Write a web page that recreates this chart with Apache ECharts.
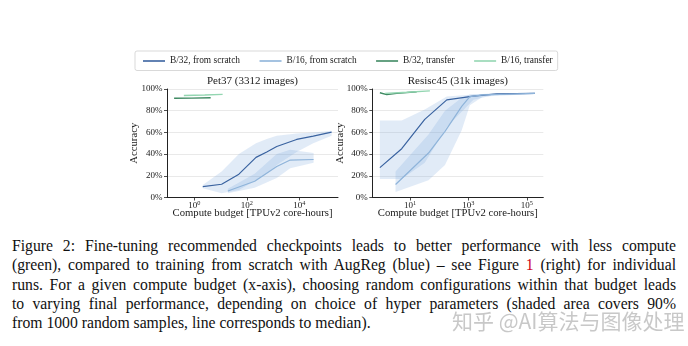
<!DOCTYPE html>
<html>
<head>
<meta charset="utf-8">
<script src="https://cdn.jsdelivr.net/npm/echarts@6/dist/echarts.min.js"></script>
<style>
html,body{margin:0;padding:0;background:#fff;width:688px;height:346px;overflow:hidden;}
#cap{position:absolute;left:12px;top:236px;width:664px;font-family:"Liberation Serif","Times New Roman",serif;font-size:15.7px;line-height:19.3px;color:#111;}
#cap div{text-align:justify;text-align-last:justify;}
#cap div.last{text-align:left;text-align-last:left;}
#cap .red{color:#d0021b;}
#chart{position:absolute;left:0;top:0;width:688px;height:346px;z-index:2;}
</style>
</head>
<body>
<div id="cap">
<div>Figure 2: Fine-tuning recommended checkpoints leads to better performance with less compute</div>
<div>(green), compared to training from scratch with AugReg (blue) – see Figure <span class="red">1</span> (right) for individual</div>
<div>runs. For a given compute budget (x-axis), choosing random configurations within that budget leads</div>
<div>to varying final performance, depending on choice of hyper parameters (shaded area covers 90%</div>
<div class="last">from 1000 random samples, line corresponds to median).</div>
</div>
<div id="chart"></div>
<script>
// ---------- text ----------
const legendNames = ['B/32, from scratch', 'B/16, from scratch', 'B/32, transfer', 'B/16, transfer'];
const panelTitles = ['Pet37 (3312 images)', 'Resisc45 (31k images)'];
const xAxisTitle = 'Compute budget [TPUv2 core-hours]';
const yAxisTitle = 'Accuracy';
const yTicks = [0, 20, 40, 60, 80, 100];
const petXTicks = [1, 100, 10000];
const resXTicks = [10, 1000, 100000];
const watermark = '知乎 @AI算法与图像处理';

// ---------- Pet37 ----------
const petB32ScratchX  = [2.1, 11, 50, 224, 575, 1380, 7900, 34000, 170000];
const petB32ScratchY  = [10, 12.2, 21.5, 37, 42, 47, 53.5, 56.5, 60.3];
const petB32ScratchLo = [8.5, 4, 7, 16, 22, 30, 42, 50, 57];
const petB32ScratchHi = [11.5, 24, 40, 50, 54, 57, 59, 60, 61.5];

const petB16ScratchX  = [19, 200, 1380, 4500, 35000];
const petB16ScratchY  = [6, 15, 28.5, 34.5, 35];
const petB16ScratchLo = [4, 9, 18, 27, 32];
const petB16ScratchHi = [8, 22, 40, 44, 41];

const petB32TransferX = [0.17, 0.8, 4.2];
const petB32TransferY = [91.5, 91.6, 92];
const petB16TransferX = [0.4, 2.5, 12];
const petB16TransferY = [94, 94.5, 95];

// ---------- Resisc45 ----------
const resB32ScratchX  = [0.93, 5.2, 32, 182, 1480, 9300, 190000];
const resB32ScratchY  = [27.5, 45, 72, 90, 93.5, 95.5, 96];
const resB32ScratchLo = [17, 17, 32, 65, 90, 95, 95.5];
const resB32ScratchHi = [71, 71, 81, 93, 95, 96, 96.5];

const resB16ScratchX  = [3.2, 43, 158, 590, 1120, 3160, 190000];
const resB16ScratchY  = [12, 41, 61, 84, 93, 94.5, 96];
const resB16ScratchLo = [5, 16, 30, 62, 85, 93, 95.5];
const resB16ScratchHi = [24, 58, 80, 92, 95, 95.5, 96.5];

const resB32TransferX = [0.93, 1.6, 3.5, 17];
const resB32TransferY = [96.5, 94.8, 96, 97.5];
const resB16TransferX = [1.4, 8, 48];
const resB16TransferY = [96, 97, 98.3];

// ---------- styles ----------
const SERIF = '"Liberation Serif", "Times New Roman", serif';
const C_B32 = '#3a63a0';
const C_B16 = '#8fb4da';
const C_T32 = '#3f8a63';
const C_T16 = '#93d6b1';
const BAND = 'rgba(120,165,220,0.22)';
const INK = '#1a1a1a';

function pairs(xs, ys) { return xs.map((x, i) => [x, ys[i]]); }

function lineSeries(name, gi, xs, ys, color, width) {
  return {
    name: name, type: 'line', xAxisIndex: gi, yAxisIndex: gi,
    data: pairs(xs, ys), showSymbol: false, symbol: 'none', color: color,
    lineStyle: { color: color, width: width }, z: 3, silent: true, animation: false
  };
}

function bandSeries(gi, xs, lo, hi) {
  return {
    type: 'custom', xAxisIndex: gi, yAxisIndex: gi, silent: true, z: 1, animation: false,
    data: xs.map((x, i) => [x, lo[i], hi[i]]),
    encode: { x: 0, y: [1, 2] },
    renderItem: function (params, api) {
      if (params.dataIndex !== 0) return null;
      const pts = [];
      for (let i = 0; i < xs.length; i++) pts.push(api.coord([xs[i], hi[i]]));
      for (let i = xs.length - 1; i >= 0; i--) pts.push(api.coord([xs[i], lo[i]]));
      return { type: 'polygon', shape: { points: pts }, style: { fill: BAND } };
    }
  };
}

function makeXAxis(gi, min, max, ticks) {
  return {
    type: 'log', logBase: 10, gridIndex: gi, min: min, max: max,
    axisLine: { show: true, lineStyle: { color: '#222', width: 1 } },
    axisTick: { show: true, customValues: ticks, length: 3, lineStyle: { color: '#222', width: 0.8 } },
    minorTick: { show: false },
    splitLine: { show: false },
    axisLabel: {
      customValues: ticks, margin: 3,
      formatter: function (v) { return '{b|10}{s|' + Math.round(Math.log10(v)) + '}'; },
      rich: {
        b: { fontFamily: SERIF, fontSize: 9, color: INK, lineHeight: 11 },
        s: { fontFamily: SERIF, fontSize: 6.3, color: INK, lineHeight: 11, verticalAlign: 'top' }
      }
    },
    name: xAxisTitle, nameLocation: 'middle', nameGap: 10, nameMoveOverlap: false,
    nameTextStyle: { fontFamily: SERIF, fontSize: 10.7, color: INK, verticalAlign: 'top' }
  };
}

function makeYAxis(gi) {
  return {
    type: 'value', gridIndex: gi, min: yTicks[0], max: yTicks[yTicks.length - 1], interval: 20,
    axisLine: { show: true, lineStyle: { color: '#222', width: 1 } },
    axisTick: { show: true, length: 3, lineStyle: { color: '#222', width: 0.8 } },
    splitLine: { show: true, lineStyle: { color: '#e3e3e3', width: 0.8 } },
    axisLabel: { formatter: '{value}%', margin: 4.5, fontFamily: SERIF, fontSize: 9, color: INK },
    name: yAxisTitle, nameLocation: 'middle', nameGap: 27, nameMoveOverlap: false,
    nameTextStyle: { fontFamily: SERIF, fontSize: 10.7, color: INK }
  };
}

const grids = [
  { left: 167, top: 89, width: 171, height: 108.5 },
  { left: 372.3, top: 89, width: 171, height: 108.5 }
];

const chart = echarts.init(document.getElementById('chart'), null, { renderer: 'canvas' });
chart.setOption({
  animation: false,
  backgroundColor: 'transparent',
  grid: grids,
  xAxis: [
    makeXAxis(0, Math.pow(10, -1.04), Math.pow(10, 5.474), petXTicks),
    makeXAxis(1, Math.pow(10, -0.291), Math.pow(10, 5.565), resXTicks)
  ],
  yAxis: [makeYAxis(0), makeYAxis(1)],
  legend: {
    data: legendNames, left: 135, top: 51, orient: 'horizontal',
    icon: 'rect', itemWidth: 22, itemHeight: 1.6, itemGap: 19.5,
    padding: [5, 5, 4.5, 8], selectedMode: false,
    backgroundColor: '#fff', borderColor: '#cfcfcf', borderWidth: 0.8, borderRadius: 2,
    textStyle: { fontFamily: SERIF, fontSize: 9.4, color: INK, lineHeight: 10 }
  },
  graphic: [
    { type: 'text', x: 252.5, y: 81.5, z: 10, style: { text: panelTitles[0], font: '11px ' + SERIF, fill: INK, align: 'center', verticalAlign: 'middle' } },
    { type: 'text', x: 457.8, y: 81.5, z: 10, style: { text: panelTitles[1], font: '11px ' + SERIF, fill: INK, align: 'center', verticalAlign: 'middle' } },
    { type: 'text', x: 452, y: 321, z: 20, style: { text: watermark, font: '21px "Noto Sans CJK SC", sans-serif', fill: 'rgba(190,190,190,0.85)', align: 'left', verticalAlign: 'middle' } }
  ],
  series: [
    bandSeries(0, petB32ScratchX, petB32ScratchLo, petB32ScratchHi),
    bandSeries(0, petB16ScratchX, petB16ScratchLo, petB16ScratchHi),
    lineSeries(legendNames[0], 0, petB32ScratchX, petB32ScratchY, C_B32, 1.2),
    lineSeries(legendNames[1], 0, petB16ScratchX, petB16ScratchY, C_B16, 1.2),
    lineSeries(legendNames[2], 0, petB32TransferX, petB32TransferY, C_T32, 1.4),
    lineSeries(legendNames[3], 0, petB16TransferX, petB16TransferY, C_T16, 1.4),
    bandSeries(1, resB32ScratchX, resB32ScratchLo, resB32ScratchHi),
    bandSeries(1, resB16ScratchX, resB16ScratchLo, resB16ScratchHi),
    lineSeries(legendNames[0], 1, resB32ScratchX, resB32ScratchY, C_B32, 1.2),
    lineSeries(legendNames[1], 1, resB16ScratchX, resB16ScratchY, C_B16, 1.2),
    lineSeries(legendNames[2], 1, resB32TransferX, resB32TransferY, C_T32, 1.4),
    lineSeries(legendNames[3], 1, resB16TransferX, resB16TransferY, C_T16, 1.4)
  ]
});
</script>
</body>
</html>
